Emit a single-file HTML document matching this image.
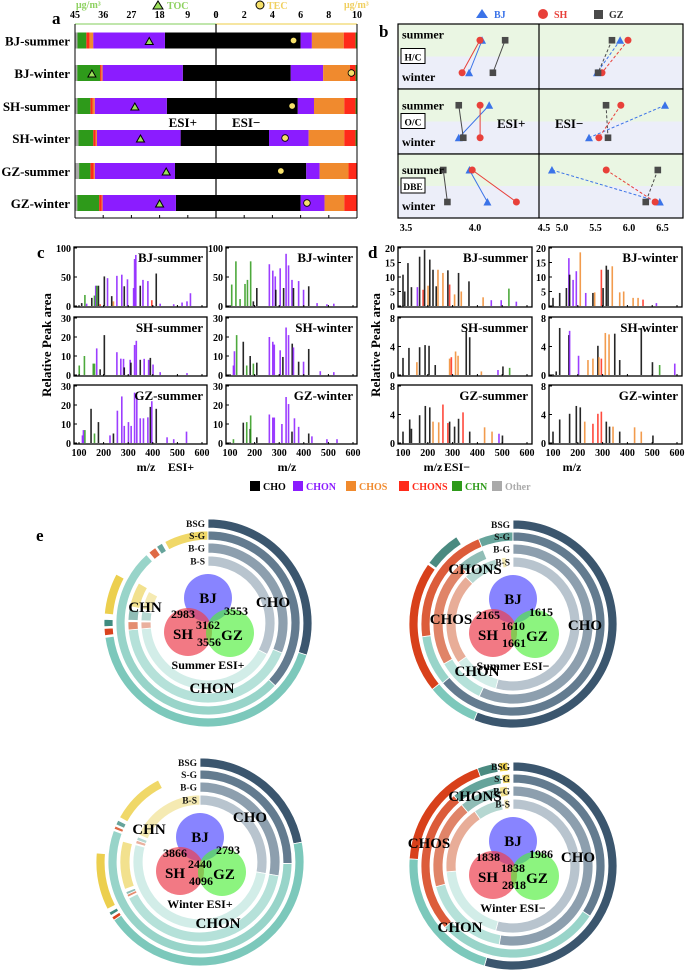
<!DOCTYPE html>
<html><head><meta charset="utf-8"><style>
body{margin:0;background:#fff}
svg{display:block;font-family:"Liberation Serif",serif;font-weight:bold}
</style></head><body>
<svg id="fig" width="685" height="972" viewBox="0 0 685 972" xmlns="http://www.w3.org/2000/svg"></svg>
<script>
// ---------- Panel a data ----------
const aRows=["BJ-summer","BJ-winter","SH-summer","SH-winter","GZ-summer","GZ-winter"];
const aLeftCHO=[16.3,10.6,15.7,11.3,13.1,12.8];
const aLeftCHON=[22.9,25.6,23.0,26.7,25.6,23.4];
const aLeftCHOS=[1.2,0.4,0.7,0.4,0.4,0.3];
const aLeftCHONS=[1.0,0.4,0.7,0.8,1.0,0.8];
const aLeftCHN=[2.8,7.3,4.1,4.7,3.6,7.0];
const aLeftOther=[0.8,0.7,0.8,1.1,1.3,0.7];
const aRightCHO=[6.0,5.3,5.8,3.76,6.4,6.0];
const aRightCHON=[0.8,2.3,1.15,2.81,0.95,1.7];
const aRightCHOS=[2.26,1.9,2.15,2.53,2.05,1.4];
const aRightCHONS=[0.84,0.4,0.8,0.8,0.6,0.9];
const aRightCHN=[0.1,0.1,0.1,0.1,0,0];
const aTOC=[21.3,39.6,25.9,24.1,15.9,18.0];
const aTEC=[5.5,9.6,5.4,4.9,4.6,6.45];
const aLeftTicks=[45,36,27,18,9,0];
const aRightTicks=[0,2,4,6,8,10];
// ---------- Panel b data ----------
const bCities=["BJ","SH","GZ"];
const bHCposSummer=[1.683,1.677,1.749], bHCposWinter=[1.646,1.626,1.714];
const bHCnegSummer=[1.429,1.459,1.398], bHCnegWinter=[1.341,1.360,1.345];
const bOCposSummer=[0.160,0.146,0.113], bOCposWinter=[0.113,0.146,0.120];
const bOCnegSummer=[0.604,0.425,0.365], bOCnegWinter=[0.296,0.336,0.373];
const bDBEposSummer=[3.96,3.98,3.77], bDBEposWinter=[4.09,4.30,3.80];
const bDBEnegSummer=[4.85,5.66,6.43], bDBEnegWinter=[6.46,6.39,6.25];
const bTicksHCpos=[1.5,1.6,1.7,1.8], bTicksHCneg=[1.2,1.3,1.4,1.5,1.6];
const bTicksOCpos=[0.05,0.10,0.15,0.20], bTicksOCneg=[0.15,0.30,0.45,0.60];
const bTicksDBEpos=[3.5,4.0,4.5], bTicksDBEneg=[5.0,5.5,6.0,6.5];
// ---------- Panels c/d spectra: [m/z, height, class(0 CHO,1 CHON,2 CHOS,3 CHONS,4 CHN)] ----------
const cBJs=[[124,19,4],[163,18,4],[168,35,1],[172,35,4],[179,35,0],[152,14,0],[203,51,0],[216,48,1],[233,17,0],[254,52,1],[274,54,1],[284,34,0],[297,46,1],[322,31,1],[326,81,1],[331,88,1],[349,35,0],[360,45,1],[380,43,1],[414,56,0],[519,6,1],[553,22,1],[539,8,1],[111,5,0],[131,4,1],[186,3,3],[240,8,2],[396,10,3],[430,4,1],[485,3,1]];
const cBJw=[[107,37,4],[124,77,4],[161,38,4],[171,45,4],[184,77,4],[209,31,0],[260,72,1],[274,61,1],[284,51,1],[286,28,0],[304,65,1],[318,31,0],[328,90,1],[338,70,1],[352,45,1],[358,31,0],[379,43,1],[399,28,1],[420,34,0],[141,12,4],[195,8,0],[454,5,1],[494,3,1],[522,4,1]];
const cSHs=[[101,5,4],[122,10,4],[158,6,4],[163,6,4],[172,14,1],[186,3,0],[203,21,0],[254,12,1],[270,8.6,1],[281,8.5,1],[308,8,1],[311,6.5,0],[326,15.8,1],[333,18,1],[349,8,0],[365,8.5,1],[383,8,1],[390,9,0],[401,5.5,1],[284,4,0],[430,1.5,1],[539,1,1]];
const cSHw=[[114,5,1],[118,12.5,1],[127,21,4],[154,17.5,0],[168,5,4],[182,10,0],[195,6,4],[209,6.5,0],[260,20,1],[274,17.5,1],[280,16,1],[304,13,1],[315,9.5,0],[328,25,1],[338,21,1],[353,16.5,0],[358,14.5,1],[379,7,0],[399,7,1],[420,13.7,0],[467,2,1],[522,1.5,1]];
const cGZs=[[114,4,1],[118,6.8,1],[124,6.8,4],[149,18,0],[163,5,4],[179,11,0],[226,4,1],[240,5,0],[256,17,1],[274,24.5,1],[284,9,1],[301,11,1],[312,9,1],[326,26.5,1],[335,24.5,1],[349,13,1],[362,13,1],[380,13.5,1],[390,19,0],[396,22,1],[414,18,0],[458,3,1],[537,6,1],[485,2,1]];
const cGZw=[[114,2,4],[154,10.7,0],[168,11,4],[182,7.4,0],[184,14.5,4],[209,3,0],[260,15,1],[274,13.4,1],[280,13.4,1],[311,10,1],[328,24.2,1],[338,20.5,1],[352,6,0],[362,13,1],[379,8.5,1],[420,5,0],[433,3.5,1],[494,2,1],[535,2,1]];
const dBJs=[[100,10.8,0],[107,5,0],[120,14.8,0],[134,6.5,0],[158,6.5,1],[167,17,0],[181,5.6,3],[187,19.4,0],[201,7,2],[208,16,0],[221,12.5,0],[234,6.8,0],[241,12.5,2],[261,11.4,2],[281,12.3,0],[288,7.4,3],[308,4,2],[324,11.4,0],[335,5,2],[366,8.5,0],[423,3,2],[456,2,1],[496,2,1],[527,6,4],[557,1.5,1]];
const dBJw=[[100,2.8,0],[127,4.5,0],[154,6.2,0],[164,16.5,1],[167,10.8,0],[181,9,1],[194,12,1],[210,18.5,2],[232,4.5,1],[261,4.5,0],[268,4.7,2],[295,12.5,3],[302,6.2,0],[315,13.9,0],[322,12.5,0],[339,13.7,2],[369,4.7,2],[385,5,2],[423,2.8,2],[443,2.8,2],[463,2.2,3],[517,1,1]];
const dSHs=[[100,2.4,0],[124,3.8,0],[156,1.8,2],[167,3.9,0],[189,4.2,0],[205,4.1,0],[230,1.4,0],[288,2.3,2],[295,2.5,3],[312,3.3,2],[322,2.7,2],[355,6.1,0],[369,5.3,0],[416,0.5,2],[483,0.7,1],[503,1.2,0],[530,1,4]];
const dSHw=[[113,0.5,0],[127,6.6,0],[164,5.6,0],[167,6.2,1],[203,2.7,1],[241,2.1,2],[261,2.3,2],[281,4.1,0],[285,2.5,2],[295,2.3,3],[311,5.9,2],[326,5.7,2],[349,5.8,0],[369,2.1,0],[456,6.6,0],[501,1.8,0],[530,1.4,4],[591,1.6,1]];
const dGZs=[[100,1.6,0],[127,3.3,0],[134,2,0],[167,3.9,0],[190,5.2,0],[208,5,0],[221,3,2],[244,2.9,2],[261,5.4,3],[281,2.8,3],[288,3,0],[308,2.3,0],[324,3.4,0],[342,4.3,3],[369,1.6,0],[429,2.2,2],[459,1.6,2],[487,1.3,1],[501,1.05,0]];
const dGZw=[[100,1.6,0],[127,3.3,0],[167,4.1,0],[194,5.2,0],[210,5,0],[228,3,2],[261,2.7,3],[281,4.1,3],[295,4.4,3],[315,3,0],[328,2.3,0],[342,2.3,2],[369,1.6,0],[429,2.2,2],[456,1.6,2],[503,1.05,0]];
const xTicksMz=[100,200,300,400,500,600];
// ---------- Panel e data: segments [startDeg,endDeg,colorKey] per ring (BSG,S-G,B-G,B-S) ----------
const eSummerPosBSG=[[0,108,"CHO"],[108,262,"CHON"],[263,267,"R"],[268,272,"T"],[275,298,"Y"]];
const eSummerPosSG=[[0,133,"CHO"],[133,318,"CHON"],[320,325,"R"],[326,330,"T"],[332,360,"Y"]];
const eSummerPosBG=[[0,112,"CHO"],[112,265,"CHON"],[265,271,"R"],[272,280,"T"],[282,300,"Y"]];
const eSummerPosBS=[[0,118,"CHO"],[118,265,"CHON"],[265,271,"R"],[272,280,"T"],[282,298,"Y"]];
const eSummerNegBSG=[[0,202,"CHO"],[202,231,"CHON"],[231,305,"CHOS"],[306,327,"CHONS"]];
const eSummerNegSG=[[0,230,"CHO"],[230,262,"CHON"],[262,338,"CHOS"],[338,360,"CHONS"]];
const eSummerNegBG=[[0,205,"CHO"],[205,240,"CHON"],[240,318,"CHOS"],[318,338,"CHONS"]];
const eSummerNegBS=[[0,195,"CHO"],[195,235,"CHON"],[235,315,"CHOS"],[315,345,"CHONS"],[350,354,"Y"]];
const eWinterPosBSG=[[0,79,"CHO"],[79,236,"CHON"],[236,238,"R"],[239,241,"T"],[243,275,"Y"]];
const eWinterPosSG=[[0,91,"CHO"],[91,290,"CHON"],[291,293,"R"],[294,297,"T"],[299,333,"Y"]];
const eWinterPosBG=[[0,100,"CHO"],[100,243,"CHON"],[244,246,"R"],[246,248,"T"],[250,285,"Y"]];
const eWinterPosBS=[[0,100,"CHO"],[100,285,"CHON"],[286,289,"R"],[289,292,"T"],[294,360,"Y"]];
const eWinterNegBSG=[[0,196,"CHO"],[196,274,"CHON"],[274,340,"CHOS"],[340,351,"CHONS"],[352,357,"Y"]];
const eWinterNegSG=[[0,123,"CHO"],[123,228,"CHON"],[228,320,"CHOS"],[320,352,"CHONS"],[353,358,"Y"]];
const eWinterNegBG=[[0,190,"CHO"],[190,255,"CHON"],[255,320,"CHOS"],[320,350,"CHONS"],[350,356,"Y"]];
const eWinterNegBS=[[0,195,"CHO"],[195,265,"CHON"],[265,325,"CHOS"],[325,350,"CHONS"],[352,356,"Y"]];
const eVennSummerPos=[2983,3553,3162,3556];
const eVennSummerNeg=[2165,1615,1610,1661];
const eVennWinterPos=[3866,2793,2440,4096];
const eVennWinterNeg=[1838,1986,1838,2818];

const NS="http://www.w3.org/2000/svg";
const svg=document.getElementById('fig');
function el(tag,attrs,parent,text){const e=document.createElementNS(NS,tag);for(const k in attrs)e.setAttribute(k,attrs[k]);if(text!==undefined)e.textContent=text;(parent||svg).appendChild(e);return e;}
function txt(x,y,s,size,anchor,fill,parent,name){const t=el('text',{x:x,y:y,'font-size':size,'text-anchor':anchor||'start',fill:fill||'#000'},parent,s);

return t;}
function grp(name){const g=el('g',{});

return g;}
const COL=['#000000','#8b1cff','#f08a2e','#ff2a1a','#2e9a1a','#aaaaaa'];

// ================= Panel a =================
(function(){
const g=grp('panel-a');
const cx=216, xL=v=>cx-v*(141/45), xR=v=>cx+v*14.1;
const rowY=[40.5,73,106,138,171,203], bh=16;
txt(52,24,'a',17,'start','#000',g,'panel-a-letter');
el('line',{x1:75,y1:24,x2:216,y2:24,stroke:'#9bd87a','stroke-width':1.2},g);
el('line',{x1:216,y1:24,x2:357,y2:24,stroke:'#f0d76a','stroke-width':1.2},g);
aLeftTicks.forEach(t=>{txt(xL(t),18,String(t),10,'middle','#000',g,'toc-tick-label');});
aRightTicks.forEach(t=>{txt(xR(t),18,String(t),10,'middle','#000',g,'tec-tick-label');});
txt(76,8,'μg/m³',10,'start','#8ed160',g,'toc-unit');
txt(344,8,'μg/m³',10,'start','#f0d060',g,'tec-unit');
el('polygon',{points:'153,9 158,1 163,9',fill:'#9be05a',stroke:'#000','stroke-width':1},g);
txt(167,9,'TOC',10,'start','#8ed160',g,'toc-legend');
el('circle',{cx:260,cy:5,r:4,fill:'#f6e06a',stroke:'#000','stroke-width':1},g);
txt(267,9,'TEC',10,'start','#f0d060',g,'tec-legend');
const L=[aLeftCHO,aLeftCHON,aLeftCHOS,aLeftCHONS,aLeftCHN,aLeftOther];
const R=[aRightCHO,aRightCHON,aRightCHOS,aRightCHONS,aRightCHN];
aRows.forEach((name,i)=>{
  const y=rowY[i]-bh/2;
  let c=0;
  L.forEach((arr,k)=>{const r=el('rect',{x:xL(c+arr[i]),y:y,width:xL(c)-xL(c+arr[i]),height:bh,fill:COL[k]},g);
    
    c+=arr[i];});
  c=0;
  R.forEach((arr,k)=>{const r=el('rect',{x:xR(c),y:y,width:xR(c+arr[i])-xR(c),height:bh,fill:COL[k]},g);
    
    c+=arr[i];});
  const tx=xL(aTOC[i]),ty=rowY[i];
  el('polygon',{points:`${tx-4},${ty+4} ${tx},${ty-3} ${tx+4},${ty+4}`,fill:'#9be05a',stroke:'#000','stroke-width':1},g);
  el('circle',{cx:xR(aTEC[i]),cy:ty,r:3.3,fill:'#f6e06a',stroke:'#000','stroke-width':0.8},g);
  txt(70,ty+5,name,13,'end','#000',g,'row-label');
});
el('line',{x1:216,y1:24,x2:216,y2:218,stroke:'#000','stroke-width':1.2},g);
el('line',{x1:75,y1:24,x2:75,y2:218,stroke:'#000','stroke-width':1},g);
el('line',{x1:357,y1:24,x2:357,y2:218,stroke:'#000','stroke-width':1},g);
el('line',{x1:75,y1:218,x2:357,y2:218,stroke:'#000','stroke-width':1},g);
aLeftTicks.forEach(t=>el('line',{x1:xL(t),y1:218,x2:xL(t),y2:215,stroke:'#000'},g));
aRightTicks.forEach(t=>el('line',{x1:xR(t),y1:218,x2:xR(t),y2:215,stroke:'#000'},g));
txt(197,127,'ESI+',13,'end','#000',g,'esi-pos-label');
txt(232,127,'ESI−',13,'start','#000',g,'esi-neg-label');
})();

// ================= Panel b =================
(function(){
const g=grp('panel-b');
txt(379,37,'b',17,'start','#000',g,'panel-b-letter');
const cols=['#3b73e8','#e8403a','#4a4a4a'];
// legend
el('polygon',{points:'476,18 482,9 488,18',fill:cols[0]},g); txt(494,18,'BJ',10,'start',cols[0],g,'legend-bj');
el('circle',{cx:543,cy:14,r:5,fill:cols[1]},g); txt(554,18,'SH',10,'start',cols[1],g,'legend-sh');
el('rect',{x:594,y:10,width:9,height:9,fill:cols[2]},g); txt(609,18,'GZ',10,'start','#333',g,'legend-gz');
const rows=[{y0:24,y1:89,lab:'H/C',pos:[bHCposSummer,bHCposWinter],neg:[bHCnegSummer,bHCnegWinter],tp:bTicksHCpos,tn:bTicksHCneg,sp:[418,1.5,350],sn:[560,1.2,262.5]},
{y0:89,y1:154,lab:'O/C',pos:[bOCposSummer,bOCposWinter],neg:[bOCnegSummer,bOCnegWinter],tp:bTicksOCpos,tn:bTicksOCneg,sp:[418,0.05,647],sn:[553,0.15,246.7]},
{y0:154,y1:218,lab:'DBE',pos:[bDBEposSummer,bDBEposWinter],neg:[bDBEnegSummer,bDBEnegWinter],tp:bTicksDBEpos,tn:bTicksDBEneg,sp:[406,3.5,138],sn:[562,5.0,67]}];
rows.forEach((r,ri)=>{
  const h=r.y1-r.y0, ym=r.y0+h/2;
  el('rect',{x:398,y:r.y0,width:285,height:h/2,fill:'#eaf6e3'},g);
  el('rect',{x:398,y:ym,width:285,height:h/2,fill:'#eceef9'},g);
  const ys=r.y0+h*0.25+ (ri===0?-1:1)*0, yw=r.y0+h*0.75;
  [[r.pos,r.sp,false],[r.neg,r.sn,true]].forEach(([data,sc,dash])=>{
    const X=v=>sc[0]+(v-sc[1])*sc[2];
    for(let c=0;c<3;c++){
      const x1=X(data[0][c]),x2=X(data[1][c]);
      el('line',{x1:x1,y1:ys,x2:x2,y2:yw,stroke:cols[c],'stroke-width':1,'stroke-dasharray':dash?'3,2':'none'},g);
      [[x1,ys],[x2,yw]].forEach(([px,py])=>{
        let m;
        if(c===0)m=el('polygon',{points:`${px-4},${py+3.5} ${px},${py-4} ${px+4},${py+3.5}`,fill:cols[0]},g);
        else if(c===1)m=el('circle',{cx:px,cy:py,r:3.5,fill:cols[1]},g);
        else m=el('rect',{x:px-3.3,y:py-3.3,width:6.6,height:6.6,fill:cols[2]},g);
        
        
      });
    }
    const ty=r.y1+(ri===2?13:11);
    (dash?r.tn:r.tp).forEach(t=>{txt(X(t),ty,t.toFixed(t<1?2:1).replace(/^0\.(\d)0$/,'0.$10'),10,'middle','#000',g,'b-tick-label');});
  });
  txt(402,ys-2+(ri===0?0:6),'summer',12,'start','#000',g,'summer-label');
  txt(402,yw+8,'winter',12,'start','#000',g,'winter-label');
  el('rect',{x:401,y:ym-8,width:24,height:15,fill:'#fff',stroke:'#000','stroke-width':1},g);
  txt(413,ym+4,r.lab,9.5,'middle','#000',g,'metric-label');
  el('rect',{x:398,y:r.y0,width:285,height:h,fill:'none',stroke:'#000','stroke-width':1.2},g);
});
el('line',{x1:539,y1:24,x2:539,y2:218,stroke:'#000','stroke-width':1.2},g);
txt(497,128,'ESI+',13,'start','#000',g,'b-esi-pos');
txt(555,128,'ESI−',13,'start','#000',g,'b-esi-neg');
})();

// ================= Panels c,d =================
function spectrum(g,x0,x1,y0,y1,mz0,mz600,ymax,ticks,peaks,title,showX){
  const X=m=>mz0+(m-100)*(mz600-mz0)/500, Y=v=>y1-1-(v/ymax)*(y1-y0-2);
  peaks.forEach(p=>{const b=el('rect',{x:X(p[0])-0.8,y:Y(p[1]),width:1.6,height:y1-1-Y(p[1]),fill:COL[p[2]],opacity:0.85},g);
    
    });
  el('rect',{x:x0,y:y0,width:x1-x0,height:y1-y0,fill:'none',stroke:'#000','stroke-width':1.3},g);
  ticks.forEach(t=>{txt(x0-3,Y(t)+4,String(t),10,'end','#000',g,'y-tick-label');el('line',{x1:x0,x2:x0+3,y1:Y(t),y2:Y(t),stroke:'#000'},g);});
  xTicksMz.forEach(t=>{el('line',{x1:X(t),x2:X(t),y1:y1,y2:y1-2,stroke:'#000'},g);if(showX)txt(X(t),y1+12,String(t),10,'middle','#000',g,'x-tick-label');});
  txt(x1-4,y0+15,title,13,'end','#000',g,'spectrum-title');
}
(function(){
const g=grp('panel-c'), h=grp('panel-d');
txt(37,258,'c',17,'start','#000',g,'panel-c-letter');
txt(368,258,'d',17,'start','#000',h,'panel-d-letter');
const rowsY=[[247,307],[317,376],[385,444]];
const cT=[[0,50,100],[0,10,20,30],[0,10,20,30]], cM=[100,30,30];
const dT=[[0,5,10,15,20],[0,4,8],[0,4,8]], dM=[20,8,8];
const cL=[cBJs,cSHs,cGZs], cR=[cBJw,cSHw,cGZw], dL=[dBJs,dSHs,dGZs], dR=[dBJw,dSHw,dGZw];
const nL=['BJ-summer','SH-summer','GZ-summer'], nR=['BJ-winter','SH-winter','GZ-winter'];
for(let i=0;i<3;i++){
  const [y0,y1]=rowsY[i];
  spectrum(g,74,207,y0,y1,79,202,cM[i],cT[i],cL[i],nL[i],i===2);
  spectrum(g,226,357,y0,y1,230,353,cM[i],cT[i],cR[i],nR[i],i===2);
  spectrum(h,398,532,y0,y1,403,527,dM[i],dT[i],dL[i],nL[i],i===2);
  spectrum(h,549,682,y0,y1,553,677,dM[i],dT[i],dR[i],nR[i],i===2);
}
const yl1=txt(0,0,'Relative Peak area',13,'middle','#000',g,'c-y-axis-title');yl1.setAttribute('transform','translate(51,345) rotate(-90)');
const yl2=txt(0,0,'Relative Peak area',13,'middle','#000',h,'d-y-axis-title');yl2.setAttribute('transform','translate(380,345) rotate(-90)');
txt(146,471,'m/z',12,'middle','#000',g,'c-x-title-left');
txt(287,471,'m/z',12,'middle','#000',g,'c-x-title-right');
txt(181,471,'ESI+',12,'middle','#000',g,'c-esi');
txt(433,471,'m/z',12,'middle','#000',h,'d-x-title-left');
txt(572,471,'m/z',12,'middle','#000',h,'d-x-title-right');
txt(457,471,'ESI−',12,'middle','#000',h,'d-esi');
// legend
const lg=grp('class-legend');
const names=['CHO','CHON','CHOS','CHONS','CHN','Other'], lx=[250,293,346,399,452,492];
names.forEach((n,k)=>{el('rect',{x:lx[k],y:481,width:10,height:10,fill:COL[k]},lg);txt(lx[k]+13,490,n,10,'start',k===0?'#000':COL[k],lg,'legend-'+n.toLowerCase());});
})();

// ================= Panel e =================
const RINGS=[[95,104],[83,92],[70,80],[57,67]];
const RINGCOL={CHO:['#3b566e','#637b8f','#8d9fae','#b8c4ce'],CHON:['#7cc8bb','#98d4c9','#b5e1d9','#d2ede8'],
CHOS:['#d8401a','#dc5c3a','#e08468','#e8ad98'],CHONS:['#4a8a80','#66a49b','#90bdb6','#b5d7d1'],
R:['#d9431e','#df6a45','#e48d70','#eab09e'],T:['#3f8c80','#66a49b','#90bdb6','#b5d7d1'],Y:['#eccf4e','#f0d868','#f2e18e','#f5eab2']};
function arc(cx,cy,ri,ro,a0,a1){const r=Math.PI/180;const p=(rr,a)=>[cx+rr*Math.sin(a*r),cy-rr*Math.cos(a*r)];
const large=(a1-a0)>180?1:0;const[a,b]=p(ro,a0),[c,d]=p(ro,a1),[e,f]=p(ri,a1),[h,i]=p(ri,a0);
return `M${a},${b}A${ro},${ro} 0 ${large} 1 ${c},${d}L${e},${f}A${ri},${ri} 0 ${large} 0 ${h},${i}Z`;}
function donut(name,cx,cy,rings,venn,caption,labels){
  const g=grp(name);
  rings.forEach((segs,ri)=>{segs.forEach(s=>{const a1=Math.min(s[1],359.9);
    const p=el('path',{d:arc(cx,cy,RINGS[ri][0],RINGS[ri][1],s[0],a1),fill:RINGCOL[s[2]][ri],stroke:'#fff','stroke-width':0.8},g);
    
    });
    txt(cx-3,cy-(RINGS[ri][0]+RINGS[ri][1])/2+3.5,['BSG','S-G','B-G','B-S'][ri],9.5,'end','#111',g,'ring-label');});
  el('circle',{cx:cx,cy:cy-25,r:24,fill:'#5a55ff','fill-opacity':0.72},g);
  el('circle',{cx:cx-20,cy:cy+9,r:24,fill:'#ec4050','fill-opacity':0.7},g);
  el('circle',{cx:cx+22,cy:cy+10,r:24,fill:'#4fee3a','fill-opacity':0.65},g);
  txt(cx,cy-20,'BJ',15,'middle','#000',g,'venn-bj');
  txt(cx-25,cy+16,'SH',15,'middle','#000',g,'venn-sh');
  txt(cx+24,cy+17,'GZ',15,'middle','#000',g,'venn-gz');
  txt(cx-25,cy-5,String(venn[0]),12,'middle','#000',g,'venn-bj-sh');
  txt(cx+28,cy-8,String(venn[1]),12,'middle','#000',g,'venn-bj-gz');
  txt(cx,cy+6,String(venn[2]),12,'middle','#000',g,'venn-all');
  txt(cx+1,cy+23,String(venn[3]),12,'middle','#000',g,'venn-sh-gz');
  txt(cx,cy+46,caption,12,'middle','#000',g,'donut-caption');
  labels.forEach(l=>txt(cx+l[1],cy+l[2],l[0],15,'middle','#000',g,'class-label'));
}
txt(36,541,'e',17,'start','#000',null,'panel-e-letter');
donut('donut-summer-esi-pos',208,623,[eSummerPosBSG,eSummerPosSG,eSummerPosBG,eSummerPosBS],eVennSummerPos,'Summer ESI+',[['CHO',65,-16],['CHON',4,70],['CHN',-63,-11]]);
donut('donut-summer-esi-neg',513,624,[eSummerNegBSG,eSummerNegSG,eSummerNegBG,eSummerNegBS],eVennSummerNeg,'Summer ESI−',[['CHO',72,6],['CHONS',-38,-50],['CHOS',-62,0],['CHON',-36,52]]);
donut('donut-winter-esi-pos',200,862,[eWinterPosBSG,eWinterPosSG,eWinterPosBG,eWinterPosBS],eVennWinterPos,'Winter ESI+',[['CHO',50,-40],['CHN',-51,-28],['CHON',18,66]]);
donut('donut-winter-esi-neg',513,866,[eWinterNegBSG,eWinterNegSG,eWinterNegBG,eWinterNegBS],eVennWinterNeg,'Winter ESI−',[['CHO',65,-4],['CHONS',-38,-65],['CHOS',-84,-18],['CHON',-53,66]]);
</script>
</body></html>
